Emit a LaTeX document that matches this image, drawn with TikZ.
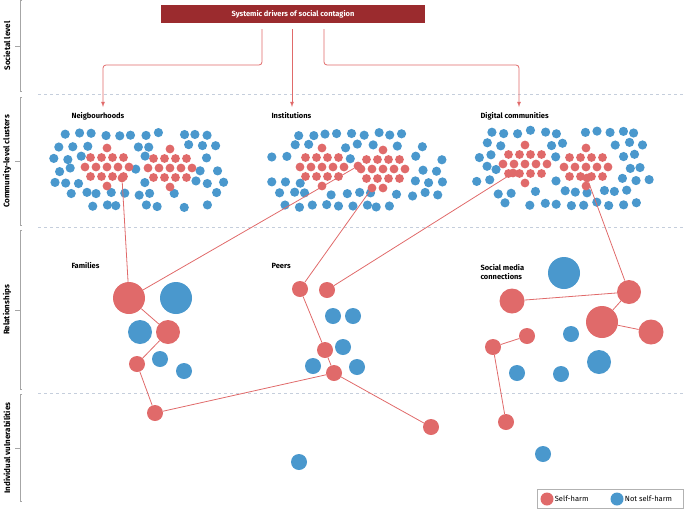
\documentclass[tikz,border=0pt]{standalone}
\usepackage{fontspec}
\setmainfont{Fira Sans}
\begin{document}
\definecolor{dred}{HTML}{9B2B2E}
\definecolor{rd}{HTML}{E06A6A}
\definecolor{bl}{HTML}{4A98CD}
\definecolor{sep}{HTML}{C5CEDC}
\begin{tikzpicture}[x=1pt,y=-1pt,
  dr/.style={circle,fill=rd,inner sep=0pt,minimum size=#1},
  db/.style={circle,fill=bl,inner sep=0pt,minimum size=#1},
  lk/.style={draw=rd,line width=0.8pt},
  lab/.style={font=\fontsize{7.5}{9}\selectfont\bfseries,anchor=west,align=left},
  ax/.style={font=\fontsize{8}{9}\selectfont\bfseries,rotate=90},
  axl/.style={gray!70,line width=0.7pt}]
\useasboundingbox (0,0) rectangle (685,509);
\newcommand\mycluster[7]{%
 \pgfmathsetseed{#7}%
 \foreach \r in {0,...,6}{\foreach \c in {0,...,13}{%
  \pgfmathsetmacro\dx{-84+\c*13+mod(\r,2)*6.5+2.5*rand}%
  \pgfmathsetmacro\dy{-36+\r*12+2*rand}%
  \pgfmathsetmacro\m{(abs(\dx)/90)^4+(abs(\dy)/41)^4}%
  \pgfmathsetmacro\ra{((\dx-(#3))/28)^2+((\dy-(#4))/25)^2}%
  \pgfmathsetmacro\rb{((\dx-(#5))/28)^2+((\dy-(#6))/25)^2}%
  \pgfmathsetmacro\sk{rand}%
  \pgfmathsetmacro\inr{min(\ra,\rb)}%
  \ifdim\m pt<1pt\ifdim\inr pt>1pt\ifdim\sk pt>-0.7pt
   \fill[bl] (#1+\dx,#2+\dy) circle (4.6);\fi\fi\fi}}%
 \foreach \px/\py in {#3/#4,#5/#6}{%
 \foreach \r in {0,...,4}{\foreach \c in {-1,...,4}{%
  \pgfmathsetmacro\ex{-22+\c*11+mod(\r,2)*5.5}%
  \pgfmathsetmacro\ey{-19+\r*9.5}%
  \pgfmathsetmacro\q{(\ex/25)^2+(\ey/21)^2}%
  \ifdim\q pt<1pt \fill[rd] (#1+\px+\ex,#2+\py+\ey) circle (4.4);\fi}}}}
% axis
\foreach \a/\b/\t/\n in {0/92/Societal level/s1,97/226/Community-level clusters/s2,230/390/Relationships/s3,394/502/Individual vulnerabilities/s4}{
  \draw[axl] (22,\a+0.5) -- (20,\a+0.5) -- (20,\b-0.5) -- (22,\b-0.5);
  \draw[axl] (15,{(\a+\b)/2}) -- (20,{(\a+\b)/2});
  \node[ax] (\n) at (7,{(\a+\b)/2}) {\t};
}
\foreach \y in {94,227,393}{\draw[sep,dashed,line width=0.6pt] (38,\y) -- (685,\y);}
% banner
\node[fill=dred,text=white,minimum width=264,minimum height=18,inner sep=0pt,font=\fontsize{7.5}{9}\selectfont\bfseries] (ban) at (293,14) {Systemic drivers of social contagion};
\coordinate (b1) at (262,29); \coordinate (b2) at (292,29); \coordinate (b3) at (324,29);
\coordinate (t1) at (103,107); \coordinate (t2) at (292,107); \coordinate (t3) at (519,107);
\draw[lk,-latex,rounded corners=3] (b1) |- (160,65) -| (t1);
\draw[lk,-latex] (b2) -- (t2);
\draw[lk,-latex,rounded corners=3] (b3) |- (400,65) -| (t3);
% labels
\node[lab] (ln) at (68,116) {Neigbourhoods};
\node[lab] (li) at (268,116) {Institutions};
\node[lab] (ld) at (477,116) {Digital communities};
\node[lab] (lf) at (68,266) {Families};
\node[lab] (lp) at (268,266) {Peers};
\node[lab] (ls) at (477,272) {Social media\\connections};
% clusters
\mycluster{137}{170}{-30}{-3}{33}{-2}{11}
\mycluster{358}{170}{-36}{-3}{25}{-1}{23}
\mycluster{563}{168}{-38}{-4}{23}{-1}{37}
\node[dr=8.8] (cn) at (122,178) {};
\node[dr=8.8] (ci1) at (358,166) {};
\node[dr=8.8] (ci2) at (372,188) {};
\node[dr=8.8] (cd1) at (513,173) {};
\node[dr=8.8] (cd2) at (587,178) {};
% families
\node[dr=32] (f1) at (129,298) {};
\node[db=32] (f2) at (176,298) {};
\node[db=24] (f3) at (140,332) {};
\node[dr=24] (f4) at (168,332) {};
\node[dr=16] (f5) at (137,364) {};
\node[db=16] (f6) at (160,359) {};
\node[db=16] (f7) at (184,371) {};
\node[dr=16] (f8) at (155,413) {};
% peers
\node[dr=16] (p1) at (300,289) {};
\node[dr=16] (p2) at (327,290) {};
\node[db=16] (p3) at (333,316) {};
\node[db=16] (p4) at (353,316) {};
\node[dr=16] (p5) at (325,350) {};
\node[db=16] (p6) at (343,347) {};
\node[db=16] (p7) at (313,366) {};
\node[dr=16] (p8) at (334,373) {};
\node[db=16] (p9) at (357,367) {};
\node[dr=16] (p10) at (431,427) {};
\node[db=16] (p11) at (299,462) {};
% social
\node[db=32] (m1) at (564,273) {};
\node[dr=25] (m2) at (512,301) {};
\node[dr=24] (m3) at (629,292) {};
\node[dr=32] (m4) at (602,322) {};
\node[dr=25] (m5) at (651,332) {};
\node[dr=16] (m6) at (527,336) {};
\node[db=16] (m7) at (571,334) {};
\node[dr=16] (m8) at (493,347) {};
\node[db=24] (m9) at (599,362) {};
\node[db=16] (m10) at (517,373) {};
\node[db=16] (m11) at (561,374) {};
\node[dr=16] (m12) at (506,422) {};
\node[db=16] (m13) at (543,454) {};
% links
\draw[lk] (cn) -- (f1); \draw[lk] (f1) -- (ci1);
\draw[lk] (f1) -- (f4); \draw[lk] (f4) -- (f5); \draw[lk] (f5) -- (f8); \draw[lk] (f8) -- (p8);
\draw[lk] (p1) -- (ci2); \draw[lk] (p2) -- (cd1);
\draw[lk] (p1) -- (p5); \draw[lk] (p5) -- (p8); \draw[lk] (p8) -- (p10);
\draw[lk] (cd2) -- (m3); \draw[lk] (m2) -- (m3); \draw[lk] (m3) -- (m4); \draw[lk] (m4) -- (m5);
\draw[lk] (m6) -- (m8); \draw[lk] (m8) -- (m12);
% legend
\node[draw=gray!60,line width=0.5pt,minimum width=146,minimum height=19,inner sep=0pt] (leg) at (610,499) {};
\node[dr=13] (lr) at (547,499) {};
\node[anchor=west,font=\fontsize{7.5}{9}\selectfont,inner sep=1pt] (lrt) at (lr.east) {Self-harm};
\node[db=13] (lb) at (617,499) {};
\node[anchor=west,font=\fontsize{7.5}{9}\selectfont,inner sep=1pt] (lbt) at (lb.east) {Not self-harm};
\end{tikzpicture}
\end{document}
